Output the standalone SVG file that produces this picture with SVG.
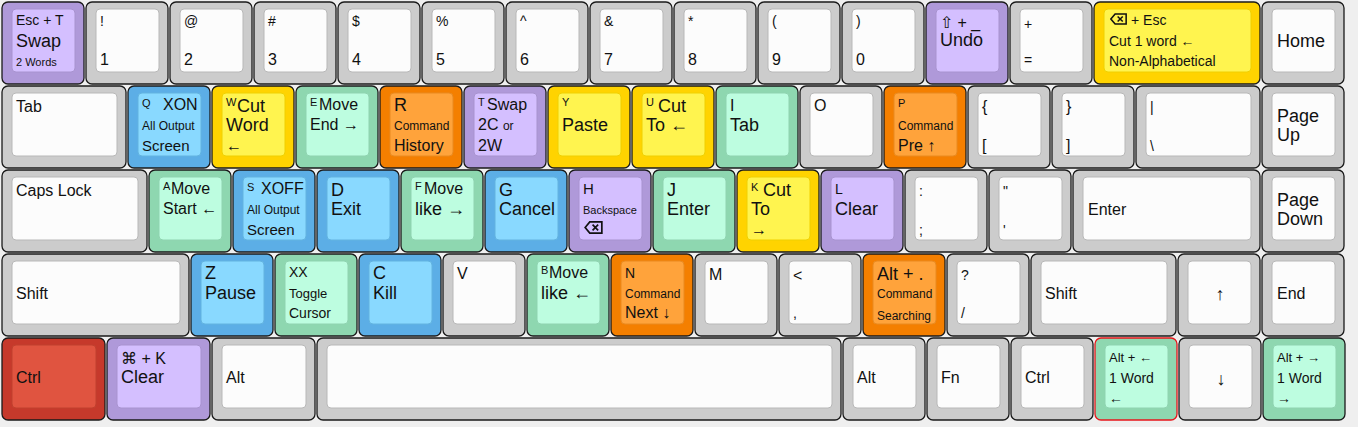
<svg xmlns="http://www.w3.org/2000/svg" width="1358" height="427" viewBox="0 0 1358 427">
<style>
text{font-family:"Liberation Sans",Arial,sans-serif;fill:#111}
.o{stroke:#1a1a1a;stroke-width:1.3}
.i{stroke-width:1}
.gy .o{fill:#cccccc}.gy .i{fill:#fcfcfc;stroke:#b8b8b8}
.pu .o{fill:#af99d9}.pu .i{fill:#d4bfff;stroke:#a893cf}
.bl .o{fill:#5caee6}.bl .i{fill:#89d9ff;stroke:#62b3e0}
.ye .o{fill:#ffd300}.ye .i{fill:#fff44f;stroke:#f0d000}
.gr .o{fill:#8ed7b0}.gr .i{fill:#bdfde0;stroke:#8fd3b0}
.or .o{fill:#f47f00}.or .i{fill:#ffa33b;stroke:#e98a20}
.rd .o{fill:#c6392b}.rd .i{fill:#e05440;stroke:#c0402e}
.s10{font-size:10px}.s11{font-size:11px}.s12{font-size:12px}.s13{font-size:13px}.s14{font-size:14px}.s15{font-size:15px}.s16{font-size:16px}.s18{font-size:18px}
</style>
<defs>
<symbol id="bs" viewBox="0 0 20 14"><path d="M1 7 L6 1 H19 V13 H6 Z" fill="none" stroke="#111" stroke-width="1.8"/><path d="M9 4 L15 10 M15 4 L9 10" stroke="#111" stroke-width="1.8"/></symbol>
</defs>
<rect width="1358" height="427" fill="#efefef"/>

<!-- Row 1 -->
<g id="k-esc" class="pu"><rect class="o" x="2" y="2" width="82" height="82" rx="6"/><rect class="i" x="12" y="9" width="63" height="63" rx="4"/><text x="16" y="25" class="s14">Esc + T</text><text x="16" y="47" class="s18">Swap</text><text x="16" y="66" class="s11">2 Words</text></g>
<g id="k-1" class="gy"><rect class="o" x="86" y="2" width="82" height="82" rx="6"/><rect class="i" x="96" y="9" width="63" height="63" rx="4"/><text x="100" y="26" class="s14">!</text><text x="100" y="65" class="s16">1</text></g>
<g id="k-2" class="gy"><rect class="o" x="170" y="2" width="82" height="82" rx="6"/><rect class="i" x="180" y="9" width="63" height="63" rx="4"/><text x="184" y="26" class="s14">@</text><text x="184" y="65" class="s16">2</text></g>
<g id="k-3" class="gy"><rect class="o" x="254" y="2" width="82" height="82" rx="6"/><rect class="i" x="264" y="9" width="63" height="63" rx="4"/><text x="268" y="26" class="s14">#</text><text x="268" y="65" class="s16">3</text></g>
<g id="k-4" class="gy"><rect class="o" x="338" y="2" width="82" height="82" rx="6"/><rect class="i" x="348" y="9" width="63" height="63" rx="4"/><text x="352" y="26" class="s14">$</text><text x="352" y="65" class="s16">4</text></g>
<g id="k-5" class="gy"><rect class="o" x="422" y="2" width="82" height="82" rx="6"/><rect class="i" x="432" y="9" width="63" height="63" rx="4"/><text x="436" y="26" class="s14">%</text><text x="436" y="65" class="s16">5</text></g>
<g id="k-6" class="gy"><rect class="o" x="506" y="2" width="82" height="82" rx="6"/><rect class="i" x="516" y="9" width="63" height="63" rx="4"/><text x="520" y="26" class="s14">^</text><text x="520" y="65" class="s16">6</text></g>
<g id="k-7" class="gy"><rect class="o" x="590" y="2" width="82" height="82" rx="6"/><rect class="i" x="600" y="9" width="63" height="63" rx="4"/><text x="604" y="26" class="s14">&amp;</text><text x="604" y="65" class="s16">7</text></g>
<g id="k-8" class="gy"><rect class="o" x="674" y="2" width="82" height="82" rx="6"/><rect class="i" x="684" y="9" width="63" height="63" rx="4"/><text x="688" y="26" class="s14">*</text><text x="688" y="65" class="s16">8</text></g>
<g id="k-9" class="gy"><rect class="o" x="758" y="2" width="82" height="82" rx="6"/><rect class="i" x="768" y="9" width="63" height="63" rx="4"/><text x="772" y="26" class="s14">(</text><text x="772" y="65" class="s16">9</text></g>
<g id="k-0" class="gy"><rect class="o" x="842" y="2" width="82" height="82" rx="6"/><rect class="i" x="852" y="9" width="63" height="63" rx="4"/><text x="856" y="26" class="s14">)</text><text x="856" y="65" class="s16">0</text></g>
<g id="k-minus" class="pu"><rect class="o" x="926" y="2" width="82" height="82" rx="6"/><rect class="i" x="936" y="9" width="63" height="63" rx="4"/><text x="940" y="28" class="s16">⇧ + _</text><text x="940" y="46" class="s18">Undo</text></g>
<g id="k-eq" class="gy"><rect class="o" x="1010" y="2" width="82" height="82" rx="6"/><rect class="i" x="1020" y="9" width="63" height="63" rx="4"/><text x="1024" y="29" class="s14">+</text><text x="1024" y="65" class="s14">=</text></g>
<g id="k-bksp" class="ye"><rect class="o" x="1094" y="2" width="166" height="82" rx="6"/><rect class="i" x="1104" y="9" width="147" height="63" rx="4"/><use href="#bs" x="1110" y="13" width="17" height="12"/><text x="1131" y="25" class="s14">+ Esc</text><text x="1109" y="46" class="s14">Cut 1 word ←</text><text x="1109" y="66" class="s14">Non-Alphabetical</text></g>
<g id="k-home" class="gy"><rect class="o" x="1262" y="2" width="82" height="82" rx="6"/><rect class="i" x="1272" y="9" width="63" height="63" rx="4"/><text x="1277" y="47" class="s18">Home</text></g>

<!-- Row 2 -->
<g id="k-tab" class="gy"><rect class="o" x="2" y="86" width="124" height="82" rx="6"/><rect class="i" x="12" y="93" width="105" height="63" rx="4"/><text x="16" y="112" class="s16">Tab</text></g>
<g id="k-q" class="bl"><rect class="o" x="128" y="86" width="82" height="82" rx="6"/><rect class="i" x="138" y="93" width="63" height="63" rx="4"/><text x="142" y="107" class="s11">Q</text><text x="163" y="110" class="s16">XON</text><text x="142" y="130" class="s12">All Output</text><text x="142" y="151" class="s15">Screen</text></g>
<g id="k-w" class="ye"><rect class="o" x="212" y="86" width="82" height="82" rx="6"/><rect class="i" x="222" y="93" width="63" height="63" rx="4"/><text x="226" y="106" class="s11">W</text><text x="237" y="112" class="s18">Cut</text><text x="226" y="131" class="s18">Word</text><text x="226" y="151" class="s16">←</text></g>
<g id="k-e" class="gr"><rect class="o" x="296" y="86" width="82" height="82" rx="6"/><rect class="i" x="306" y="93" width="63" height="63" rx="4"/><text x="310" y="106" class="s11">E</text><text x="319" y="110" class="s16">Move</text><text x="310" y="130" class="s16">End →</text></g>
<g id="k-r" class="or"><rect class="o" x="380" y="86" width="82" height="82" rx="6"/><rect class="i" x="390" y="93" width="63" height="63" rx="4"/><text x="394" y="111" class="s18">R</text><text x="394" y="130" class="s12">Command</text><text x="394" y="151" class="s16">History</text></g>
<g id="k-t" class="pu"><rect class="o" x="464" y="86" width="82" height="82" rx="6"/><rect class="i" x="474" y="93" width="63" height="63" rx="4"/><text x="478" y="106" class="s11">T</text><text x="487" y="110" class="s16">Swap</text><text x="478" y="130" class="s16">2C <tspan class="s12">or</tspan></text><text x="478" y="151" class="s16">2W</text></g>
<g id="k-y" class="ye"><rect class="o" x="548" y="86" width="82" height="82" rx="6"/><rect class="i" x="558" y="93" width="63" height="63" rx="4"/><text x="562" y="106" class="s11">Y</text><text x="562" y="131" class="s18">Paste</text></g>
<g id="k-u" class="ye"><rect class="o" x="632" y="86" width="82" height="82" rx="6"/><rect class="i" x="642" y="93" width="63" height="63" rx="4"/><text x="646" y="106" class="s11">U</text><text x="658" y="112" class="s18">Cut</text><text x="646" y="131" class="s18">To ←</text></g>
<g id="k-i" class="gr"><rect class="o" x="716" y="86" width="82" height="82" rx="6"/><rect class="i" x="726" y="93" width="63" height="63" rx="4"/><text x="730" y="111" class="s16">I</text><text x="730" y="131" class="s18">Tab</text></g>
<g id="k-o" class="gy"><rect class="o" x="800" y="86" width="82" height="82" rx="6"/><rect class="i" x="810" y="93" width="63" height="63" rx="4"/><text x="814" y="111" class="s16">O</text></g>
<g id="k-p" class="or"><rect class="o" x="884" y="86" width="82" height="82" rx="6"/><rect class="i" x="894" y="93" width="63" height="63" rx="4"/><text x="898" y="107" class="s11">P</text><text x="898" y="130" class="s12">Command</text><text x="898" y="151" class="s16">Pre ↑</text></g>
<g id="k-lbr" class="gy"><rect class="o" x="968" y="86" width="82" height="82" rx="6"/><rect class="i" x="978" y="93" width="63" height="63" rx="4"/><text x="982" y="112" class="s16">{</text><text x="982" y="151" class="s16">[</text></g>
<g id="k-rbr" class="gy"><rect class="o" x="1052" y="86" width="82" height="82" rx="6"/><rect class="i" x="1062" y="93" width="63" height="63" rx="4"/><text x="1066" y="112" class="s16">}</text><text x="1066" y="151" class="s16">]</text></g>
<g id="k-bsl" class="gy"><rect class="o" x="1136" y="86" width="124" height="82" rx="6"/><rect class="i" x="1146" y="93" width="105" height="63" rx="4"/><text x="1150" y="112" class="s14">|</text><text x="1150" y="151" class="s14">\</text></g>
<g id="k-pgup" class="gy"><rect class="o" x="1262" y="86" width="82" height="82" rx="6"/><rect class="i" x="1272" y="93" width="63" height="63" rx="4"/><text x="1277" y="122" class="s18">Page</text><text x="1277" y="141" class="s18">Up</text></g>

<!-- Row 3 -->
<g id="k-caps" class="gy"><rect class="o" x="2" y="170" width="145" height="82" rx="6"/><rect class="i" x="12" y="177" width="126" height="63" rx="4"/><text x="16" y="196" class="s16">Caps Lock</text></g>
<g id="k-a" class="gr"><rect class="o" x="149" y="170" width="82" height="82" rx="6"/><rect class="i" x="159" y="177" width="63" height="63" rx="4"/><text x="163" y="190" class="s11">A</text><text x="171" y="194" class="s16">Move</text><text x="163" y="214" class="s16">Start ←</text></g>
<g id="k-s" class="bl"><rect class="o" x="233" y="170" width="82" height="82" rx="6"/><rect class="i" x="243" y="177" width="63" height="63" rx="4"/><text x="247" y="191" class="s11">S</text><text x="261" y="194" class="s16">XOFF</text><text x="247" y="214" class="s12">All Output</text><text x="247" y="235" class="s15">Screen</text></g>
<g id="k-d" class="bl"><rect class="o" x="317" y="170" width="82" height="82" rx="6"/><rect class="i" x="327" y="177" width="63" height="63" rx="4"/><text x="331" y="196" class="s18">D</text><text x="331" y="215" class="s18">Exit</text></g>
<g id="k-f" class="gr"><rect class="o" x="401" y="170" width="82" height="82" rx="6"/><rect class="i" x="411" y="177" width="63" height="63" rx="4"/><text x="415" y="190" class="s11">F</text><text x="424" y="194" class="s16">Move</text><text x="415" y="215" class="s18">like →</text></g>
<g id="k-g" class="bl"><rect class="o" x="485" y="170" width="82" height="82" rx="6"/><rect class="i" x="495" y="177" width="63" height="63" rx="4"/><text x="499" y="196" class="s18">G</text><text x="499" y="215" class="s18">Cancel</text></g>
<g id="k-h" class="pu"><rect class="o" x="569" y="170" width="82" height="82" rx="6"/><rect class="i" x="579" y="177" width="63" height="63" rx="4"/><text x="583" y="194" class="s15">H</text><text x="583" y="214" class="s11">Backspace</text><use href="#bs" x="584" y="221" width="19" height="13"/></g>
<g id="k-j" class="gr"><rect class="o" x="653" y="170" width="82" height="82" rx="6"/><rect class="i" x="663" y="177" width="63" height="63" rx="4"/><text x="667" y="196" class="s18">J</text><text x="667" y="215" class="s18">Enter</text></g>
<g id="k-k" class="ye"><rect class="o" x="737" y="170" width="82" height="82" rx="6"/><rect class="i" x="747" y="177" width="63" height="63" rx="4"/><text x="751" y="191" class="s11">K</text><text x="763" y="196" class="s18">Cut</text><text x="751" y="215" class="s18">To</text><text x="751" y="235" class="s16">→</text></g>
<g id="k-l" class="pu"><rect class="o" x="821" y="170" width="82" height="82" rx="6"/><rect class="i" x="831" y="177" width="63" height="63" rx="4"/><text x="835" y="194" class="s14">L</text><text x="835" y="215" class="s18">Clear</text></g>
<g id="k-semi" class="gy"><rect class="o" x="905" y="170" width="82" height="82" rx="6"/><rect class="i" x="915" y="177" width="63" height="63" rx="4"/><text x="919" y="196" class="s14">:</text><text x="919" y="235" class="s14">;</text></g>
<g id="k-quote" class="gy"><rect class="o" x="989" y="170" width="82" height="82" rx="6"/><rect class="i" x="999" y="177" width="63" height="63" rx="4"/><text x="1003" y="196" class="s14">"</text><text x="1003" y="235" class="s14">'</text></g>
<g id="k-enter" class="gy"><rect class="o" x="1073" y="170" width="187" height="82" rx="6"/><rect class="i" x="1083" y="177" width="168" height="63" rx="4"/><text x="1088" y="215" class="s16">Enter</text></g>
<g id="k-pgdn" class="gy"><rect class="o" x="1262" y="170" width="82" height="82" rx="6"/><rect class="i" x="1272" y="177" width="63" height="63" rx="4"/><text x="1277" y="206" class="s18">Page</text><text x="1277" y="225" class="s18">Down</text></g>

<!-- Row 4 -->
<g id="k-lshift" class="gy"><rect class="o" x="2" y="254" width="187" height="82" rx="6"/><rect class="i" x="12" y="261" width="168" height="63" rx="4"/><text x="16" y="299" class="s16">Shift</text></g>
<g id="k-z" class="bl"><rect class="o" x="191" y="254" width="82" height="82" rx="6"/><rect class="i" x="201" y="261" width="63" height="63" rx="4"/><text x="205" y="279" class="s18">Z</text><text x="205" y="299" class="s18">Pause</text></g>
<g id="k-x" class="gr"><rect class="o" x="275" y="254" width="82" height="82" rx="6"/><rect class="i" x="285" y="261" width="63" height="63" rx="4"/><text x="289" y="277" class="s14">XX</text><text x="289" y="298" class="s13">Toggle</text><text x="289" y="318" class="s14">Cursor</text></g>
<g id="k-c" class="bl"><rect class="o" x="359" y="254" width="82" height="82" rx="6"/><rect class="i" x="369" y="261" width="63" height="63" rx="4"/><text x="373" y="279" class="s18">C</text><text x="373" y="299" class="s18">Kill</text></g>
<g id="k-v" class="gy"><rect class="o" x="443" y="254" width="82" height="82" rx="6"/><rect class="i" x="453" y="261" width="63" height="63" rx="4"/><text x="457" y="279" class="s16">V</text></g>
<g id="k-b" class="gr"><rect class="o" x="527" y="254" width="82" height="82" rx="6"/><rect class="i" x="537" y="261" width="63" height="63" rx="4"/><text x="541" y="274" class="s11">B</text><text x="549" y="278" class="s16">Move</text><text x="541" y="299" class="s18">like ←</text></g>
<g id="k-n" class="or"><rect class="o" x="611" y="254" width="82" height="82" rx="6"/><rect class="i" x="621" y="261" width="63" height="63" rx="4"/><text x="625" y="278" class="s14">N</text><text x="625" y="298" class="s12">Command</text><text x="625" y="318" class="s16">Next ↓</text></g>
<g id="k-m" class="gy"><rect class="o" x="695" y="254" width="82" height="82" rx="6"/><rect class="i" x="705" y="261" width="63" height="63" rx="4"/><text x="709" y="280" class="s16">M</text></g>
<g id="k-comma" class="gy"><rect class="o" x="779" y="254" width="82" height="82" rx="6"/><rect class="i" x="789" y="261" width="63" height="63" rx="4"/><text x="793" y="281" class="s16">&lt;</text><text x="793" y="318" class="s14">,</text></g>
<g id="k-period" class="or"><rect class="o" x="863" y="254" width="82" height="82" rx="6"/><rect class="i" x="873" y="261" width="63" height="63" rx="4"/><text x="877" y="280" class="s18">Alt + .</text><text x="877" y="298" class="s12">Command</text><text x="877" y="320" class="s12">Searching</text></g>
<g id="k-slash" class="gy"><rect class="o" x="947" y="254" width="82" height="82" rx="6"/><rect class="i" x="957" y="261" width="63" height="63" rx="4"/><text x="961" y="280" class="s14">?</text><text x="961" y="318" class="s14">/</text></g>
<g id="k-rshift" class="gy"><rect class="o" x="1031" y="254" width="145" height="82" rx="6"/><rect class="i" x="1041" y="261" width="126" height="63" rx="4"/><text x="1045" y="299" class="s16">Shift</text></g>
<g id="k-up" class="gy"><rect class="o" x="1178" y="254" width="82" height="82" rx="6"/><rect class="i" x="1188" y="261" width="63" height="63" rx="4"/><text x="1220" y="300" class="s18" text-anchor="middle">↑</text></g>
<g id="k-end" class="gy"><rect class="o" x="1262" y="254" width="82" height="82" rx="6"/><rect class="i" x="1272" y="261" width="63" height="63" rx="4"/><text x="1277" y="299" class="s16">End</text></g>

<!-- Row 5 -->
<g id="k-lctrl" class="rd"><rect class="o" x="2" y="338" width="103" height="82" rx="6"/><rect class="i" x="12" y="345" width="84" height="63" rx="4"/><text x="16" y="383" class="s16">Ctrl</text></g>
<g id="k-cmd" class="pu"><rect class="o" x="107" y="338" width="103" height="82" rx="6"/><rect class="i" x="117" y="345" width="84" height="63" rx="4"/><text x="121" y="364" class="s16">⌘ + K</text><text x="121" y="383" class="s18">Clear</text></g>
<g id="k-lalt" class="gy"><rect class="o" x="212" y="338" width="103" height="82" rx="6"/><rect class="i" x="222" y="345" width="84" height="63" rx="4"/><text x="226" y="383" class="s16">Alt</text></g>
<g id="k-space" class="gy"><rect class="o" x="317" y="338" width="524" height="82" rx="6"/><rect class="i" x="327" y="345" width="505" height="63" rx="4"/></g>
<g id="k-ralt" class="gy"><rect class="o" x="843" y="338" width="82" height="82" rx="6"/><rect class="i" x="853" y="345" width="63" height="63" rx="4"/><text x="857" y="383" class="s16">Alt</text></g>
<g id="k-fn" class="gy"><rect class="o" x="927" y="338" width="82" height="82" rx="6"/><rect class="i" x="937" y="345" width="63" height="63" rx="4"/><text x="941" y="383" class="s16">Fn</text></g>
<g id="k-rctrl" class="gy"><rect class="o" x="1011" y="338" width="82" height="82" rx="6"/><rect class="i" x="1021" y="345" width="63" height="63" rx="4"/><text x="1025" y="383" class="s16">Ctrl</text></g>
<g id="k-left" class="gr"><rect class="o" x="1095" y="338" width="82" height="82" rx="6" style="stroke:#e8161b"/><rect class="i" x="1105" y="345" width="63" height="63" rx="4"/><text x="1109" y="362" class="s13">Alt + ←</text><text x="1109" y="383" class="s14">1 Word</text><text x="1109" y="403" class="s14">←</text></g>
<g id="k-down" class="gy"><rect class="o" x="1179" y="338" width="82" height="82" rx="6"/><rect class="i" x="1189" y="345" width="63" height="63" rx="4"/><text x="1221" y="385" class="s18" text-anchor="middle">↓</text></g>
<g id="k-right" class="gr"><rect class="o" x="1263" y="338" width="82" height="82" rx="6"/><rect class="i" x="1273" y="345" width="63" height="63" rx="4"/><text x="1277" y="362" class="s13">Alt + →</text><text x="1277" y="383" class="s14">1 Word</text><text x="1277" y="403" class="s14">→</text></g>
<g id="connectors"/>
</svg>
